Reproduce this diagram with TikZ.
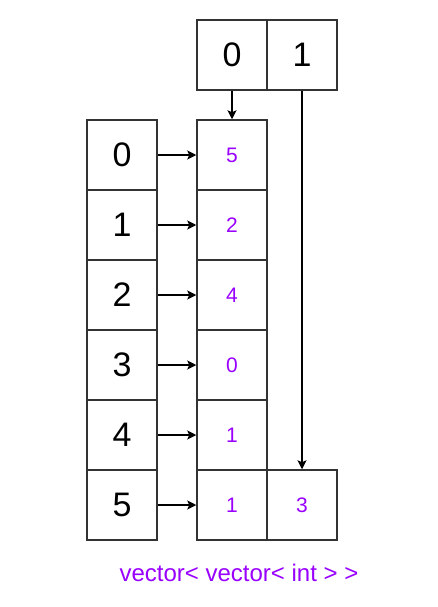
\documentclass[tikz,border=0pt]{standalone}
\usepackage{fontspec}
\setmainfont{Liberation Sans}
\usetikzlibrary{arrows.meta}

\definecolor{boxgray}{RGB}{51,51,51}
\definecolor{valpurple}{RGB}{153,0,255}

\begin{document}
\begin{tikzpicture}[
			x=1pt, y=-1pt,
			base/.style={draw=boxgray, line width=1.5pt, minimum width=70pt, minimum height=70pt, inner sep=0pt},
			index/.style={base, font=\fontsize{34}{40}\selectfont},
			value/.style={base, text=valpurple, font=\fontsize{21}{25}\selectfont},
			link/.style={line width=1.3pt, -{Stealth[length=9pt,width=9pt,inset=2pt]}},
			]

			\useasboundingbox (0,0) rectangle (437,607);

			\newcommand{\boxs}{70}
			\newcommand{\rowtop}{155}

			% outer vector
			\node [index] (l0) at (122,{\rowtop+0*\boxs}) {0};
			\node [index] (l1) at (122,{\rowtop+1*\boxs}) {1};
			\node [index] (l2) at (122,{\rowtop+2*\boxs}) {2};
			\node [index] (l3) at (122,{\rowtop+3*\boxs}) {3};
			\node [index] (l4) at (122,{\rowtop+4*\boxs}) {4};
			\node [index] (l5) at (122,{\rowtop+5*\boxs}) {5};

			% inner vectors
			\node [value] (m0) at (232,{\rowtop+0*\boxs}) {5};
			\node [value] (m1) at (232,{\rowtop+1*\boxs}) {2};
			\node [value] (m2) at (232,{\rowtop+2*\boxs}) {4};
			\node [value] (m3) at (232,{\rowtop+3*\boxs}) {0};
			\node [value] (m4) at (232,{\rowtop+4*\boxs}) {1};
			\node [value] (m5) at (232,{\rowtop+5*\boxs}) {1};
			\node [value] (r5) at (302,{\rowtop+5*\boxs}) {3};

			% column index
			\node [index] (t0) at (232,55) {0};
			\node [index] (t1) at (302,55) {1};

			\draw [link] (l0) -- (m0);
			\draw [link] (l1) -- (m1);
			\draw [link] (l2) -- (m2);
			\draw [link] (l3) -- (m3);
			\draw [link] (l4) -- (m4);
			\draw [link] (l5) -- (m5);

			\draw [link] (t0) -- (m0);
			\draw [link] (t1) -- (r5);

			\node [text=valpurple, font=\fontsize{24}{28}\selectfont] (caption) at (239,573) {vector< vector< int > >};

		\end{tikzpicture}
\end{document}
